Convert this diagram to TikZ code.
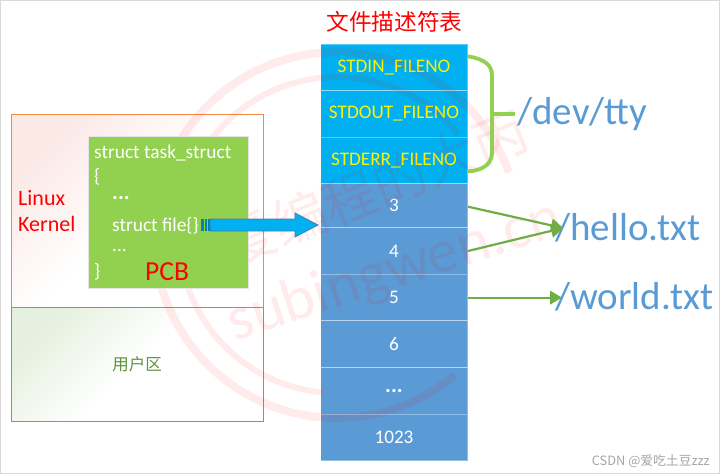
\documentclass[tikz,border=0pt]{standalone}
\usepackage{fontspec}
\setmainfont{Carlito}
\newfontfamily\cjk{Noto Sans CJK SC}
\usetikzlibrary{arrows.meta,calc}
\definecolor{rowcyan}{HTML}{00B0F0}
\definecolor{rowblue}{HTML}{5B9BD5}
\definecolor{pcbgreen}{HTML}{92D050}
\definecolor{linegreen}{HTML}{70AD47}
\definecolor{kernelorange}{HTML}{ED7D31}
\definecolor{kernelpink}{HTML}{FBE9E6}
\newcommand{\rowdown}[1]{\raisebox{-1pt}{#1}}
\tikzset{
  x=1pt,y=-1pt,
  rowbox/.style={minimum width=147pt,minimum height=46.6pt,inner sep=0pt,anchor=north west,draw=white,draw opacity=0.35,line width=1pt,text=white,font=\fontsize{19.2}{21}\selectfont},
  stdrow/.style={rowbox,fill=rowcyan,text=yellow},
  numrow/.style={rowbox,fill=rowblue},
  pathlabel/.style={anchor=west,text=rowblue,inner sep=0pt,font=\fontsize{39}{42}\selectfont},
  codeline/.style={anchor=west,inner sep=0pt,text=white,font=\fontsize{19.4}{21}\selectfont},
  redlabel/.style={anchor=west,inner sep=0pt,text=red,font=\fontsize{22}{25}\selectfont},
  link/.style={draw=linegreen,line width=2.2pt,-{Stealth[length=12pt,width=13.5pt,inset=0pt]}},
  mark ring/.style={draw=red,draw opacity=0.08},
  mark text/.style={text=red,text opacity=0.08},
}
\begin{document}
\begin{tikzpicture}
\useasboundingbox (0,0) rectangle (720,474);
\fill[white] (0,0) rectangle (720,474);
\draw[black!15,line width=1.5pt] (0.5,0.5) rectangle (719.5,473.5);
% kernel and user areas
\shade[top color=kernelpink,bottom color=white,middle color=white,shading angle=45] (11,114) rectangle (263,307);
\shade[top color=linegreen!18,bottom color=white,middle color=white,shading angle=45] (11,307) rectangle (263,421);
\node[draw=kernelorange!90!white,line width=1.2pt,minimum width=252pt,minimum height=193pt,inner sep=0pt,anchor=north west] (kernel) at (11,114) {};
\node[draw=linegreen,line width=1.2pt,minimum width=252pt,minimum height=114pt,inner sep=0pt,anchor=north west] (user) at (11,307) {};
\node[anchor=center,text=linegreen!85!black,font=\cjk\fontsize{16.5}{18}\selectfont] (userlabel) at (137,364) {用户区};
\node[redlabel] (linux) at (18,198) {Linux};
\node[redlabel] (kern) at (18,224) {Kernel};
% table
\node[stdrow] (r0) at (320,43.5) {\rowdown{STDIN\_FILENO}};
\node[stdrow] (r1) at (320,90) {\rowdown{STDOUT\_FILENO}};
\node[stdrow] (r2) at (320,136.6) {\rowdown{STDERR\_FILENO}};
\node[numrow,minimum height=44pt] (r3) at (320,183.2) {\rowdown{3}};
\node[numrow] (r4) at (320,227.2) {4};
\node[numrow] (r5) at (320,273.8) {5};
\node[numrow] (r6) at (320,320.4) {6};
\node[numrow,font=\bfseries\fontsize{22}{24}\selectfont] (r7) at (320,367) {...};
\node[numrow] (r8) at (320,413.6) {1023};
\node[anchor=center,text=red,font=\cjk\fontsize{22.7}{25}\selectfont] (title) at (394.5,22) {文件描述符表};
% watermark
\coordinate (wm) at (337,235);
\draw[mark ring,line width=8pt] ($(wm)+(50:183)$) arc[start angle=50,end angle=340,radius=183,y=1pt];
\draw[mark ring,line width=6pt] ($(wm)+(95:158)$) arc[start angle=95,end angle=320,radius=158];
\node[mark text,rotate=22,font=\cjk\fontsize{54}{56}\selectfont] (wm1) at (375,188) {爱编程的大丙};
\node[mark text,rotate=18,font=\fontsize{62}{64}\selectfont] (wm2) at (395,272) {subingwen.cn};
% PCB
\node[fill=pcbgreen,draw=black!10,line width=0.6pt,minimum width=160pt,minimum height=152pt,inner sep=0pt,anchor=north west] (pcb) at (88,136) {};
\node[codeline] (c1) at (94,153) {struct task\_struct};
\node[codeline] (c2) at (94,177) {\{};
\node[codeline,font=\bfseries\fontsize{22}{24}\selectfont] (c3) at (112,198) {...};
\node[codeline] (c4) at (112,225.5) {struct file\{\}};
\node[codeline] (c5) at (112,250) {...};
\node[codeline] (c6) at (94,271.5) {\}};
\node[anchor=west,inner sep=0pt,text=red,font=\fontsize{27.5}{30}\selectfont] (pcblabel) at (145,272) {PCB};
% labels
\node[pathlabel] (tty) at (517,114) {/dev/tty};
\node[pathlabel] (hello) at (555,228) {/hello.txt};
\node[pathlabel] (world) at (555,297) {/world.txt};
% brace
\coordinate (bracetip) at ($(tty.west)+(-2,0)$);
\coordinate (bracemid) at ($(r1.east)+(24,0)$);
\draw[pcbgreen,line width=3.8pt] ($(r0.east)+(0,-11)$) .. controls ($(r0.east)+(17,-8)$) and ($(r0.east)+(24,-2)$) .. ($(r0.east)+(24,8)$)
  -- ($(r2.east)+(24,-8)$) .. controls ($(r2.east)+(24,2)$) and ($(r2.east)+(17,10)$) .. ($(r2.east)+(0,11)$);
\draw[pcbgreen,line width=3.8pt] (bracemid) -- (bracemid -| bracetip);
% links
\coordinate (hellotip) at ($(hello.west)+(8,0)$);
\coordinate (worldtip) at ($(world.west)+(7,0)$);
\draw[link] ($(r3.east)+(0,1)$) -- (hellotip);
\draw[link] (r4.east) -- (hellotip);
\draw[link] (r5.east) -- (r5.east -| worldtip);
% block arrow
\coordinate (ba) at (201,225);
\coordinate (bb) at (318,225);
\path[fill=rowcyan,draw=rowblue!80!black,line width=0.8pt]
  ($(ba)+(9,-6)$) -- ($(bb)+(-23,-6)$) -- ($(bb)+(-23,-12)$) -- (bb) -- ($(bb)+(-23,12)$) -- ($(bb)+(-23,6)$) -- ($(ba)+(9,6)$) -- cycle;
\foreach \dx/\w in {0/2.5,3.5/2.5,6.5/2}{
  \fill[rowcyan!75!black] ($(ba)+(\dx,-6)$) rectangle ($(ba)+(\dx+\w,6)$);
}
% credit
\node[anchor=east,inner sep=0pt,text=black!35,font=\cjk\fontsize{12.8}{15}\selectfont] (credit) at (710,461) {CSDN @爱吃土豆zzz};
\end{tikzpicture}
\end{document}
